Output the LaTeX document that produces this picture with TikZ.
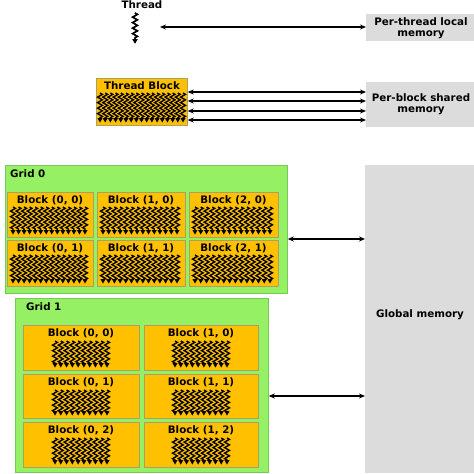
\documentclass[tikz,border=0pt]{standalone}
\usepackage{fontspec}
\setmainfont{DejaVu Sans}
\usetikzlibrary{arrows.meta,decorations.pathmorphing}
\definecolor{gridgreen}{RGB}{150,240,100}
\definecolor{gridborder}{RGB}{120,200,90}
\definecolor{blkorange}{RGB}{255,192,0}
\definecolor{blkborder}{RGB}{170,160,100}
\definecolor{memgray}{RGB}{220,220,220}
\newcommand\mysquigs[5]{%
  \foreach \i in {0,...,#5}{%
    \pgfmathsetmacro\xx{(#1)+((#2)-(#1))*\i/#5}
    \draw[thr] (\xx,#3) -- (\xx,#4-2);
    \fill (\xx-2.6,#4-3) -- (\xx+2.6,#4-3) -- (\xx,#4+1.5) -- cycle;
  }}
\begin{document}
\begin{tikzpicture}[x=1pt,y=-1pt,
  lbl/.style={font=\bfseries\fontsize{10.3}{12}\selectfont, inner sep=0pt},
  mem/.style={fill=memgray, draw=none, inner sep=0pt, align=center,
    font=\bfseries\fontsize{10.3}{11.5}\selectfont},
  blk/.style={fill=blkorange, draw=blkborder, line width=0.7pt, inner sep=0pt, anchor=north west},
  gridbox/.style={fill=gridgreen, draw=gridborder, line width=0.8pt, inner sep=0pt, anchor=north west},
  conn/.style={{Stealth[length=6pt,width=5pt]}-{Stealth[length=6pt,width=5pt]}, line width=1.1pt},
  thr/.style={line width=1.4pt, decorate, decoration={zigzag, amplitude=2.4pt, segment length=5.5pt}}
]
\useasboundingbox (0,0) rectangle (474,474);
% memories
\node[mem, minimum width=108pt, minimum height=27pt, anchor=north west] (ptl) at (366,14) {};
\node[mem, anchor=center] (ptltxt) at (421,28) {Per-thread local\\memory};
\node[mem, minimum width=108pt, minimum height=45pt, anchor=north west] (pbs) at (366,82) {};
\node[mem, anchor=center] (pbstxt) at (421,104) {Per-block shared\\memory};
\node[mem, minimum width=109pt, minimum height=308pt, anchor=north west] (gm) at (365,165) {};
\node[mem, anchor=center] (gmtxt) at (420,315) {Global memory};
% thread
\node[lbl] (thrlbl) at (142,5) {Thread};
\coordinate (thr) at (135,27);
\mysquigs{135}{135}{13}{42}{1}
\coordinate (thrend) at (160,27);
\draw[conn] (thrend) -- (thrend -| ptl.west);
% thread block
\node[blk, minimum width=91pt, minimum height=47pt] (tb) at (96,78) {};
\node[lbl] (tblbl) at (142,86) {Thread Block};
\mysquigs{100}{183}{93}{121}{16}
\foreach \yy in {92,101,111,120}{
  \draw[conn] (tb.east |- {(0,\yy)}) -- (pbs.west |- {(0,\yy)});
}
% grid 0
\node[gridbox, minimum width=282pt, minimum height=128pt] (g0) at (5,165) {};
\node[lbl, anchor=west] (g0lbl) at (10,174) {Grid 0};
\foreach \c/\xa/\xb in {0/7/93,1/97/185,2/189/278}{
  \foreach \r/\ya/\yb in {0/192/237,1/240/286}{
    \node[blk, minimum width={\xb-\xa}, minimum height={\yb-\ya}] (g0b\c\r) at (\xa,\ya) {};
    \node[lbl] (g0l\c\r) at ({(\xa+\xb)/2},\ya+8) {Block (\c, \r)};
    \mysquigs{\xa+6}{\xb-8}{\ya+15}{\yb-4}{13}
  }
}
\draw[conn] (g0.east |- {(0,239)}) -- (gm.west |- {(0,239)});
% grid 1
\node[gridbox, minimum width=253pt, minimum height=174pt] (g1) at (15,298) {};
\node[lbl, anchor=west] (g1lbl) at (26,307) {Grid 1};
\foreach \c/\xa/\xb in {0/23/139,1/144/258}{
  \foreach \r/\ya/\yb in {0/325/370,1/374/418,2/422/467}{
    \node[blk, minimum width={\xb-\xa}, minimum height={\yb-\ya}] (g1b\c\r) at (\xa,\ya) {};
    \node[lbl] (g1l\c\r) at ({(\xa+\xb)/2},\ya+8) {Block (\c, \r)};
    \mysquigs{(\xa+\xb)/2-26}{(\xa+\xb)/2+26}{\ya+16}{\yb-4}{9}
  }
}
\draw[conn] (g1.east |- {(0,396)}) -- (gm.west |- {(0,396)});
\end{tikzpicture}
\end{document}
